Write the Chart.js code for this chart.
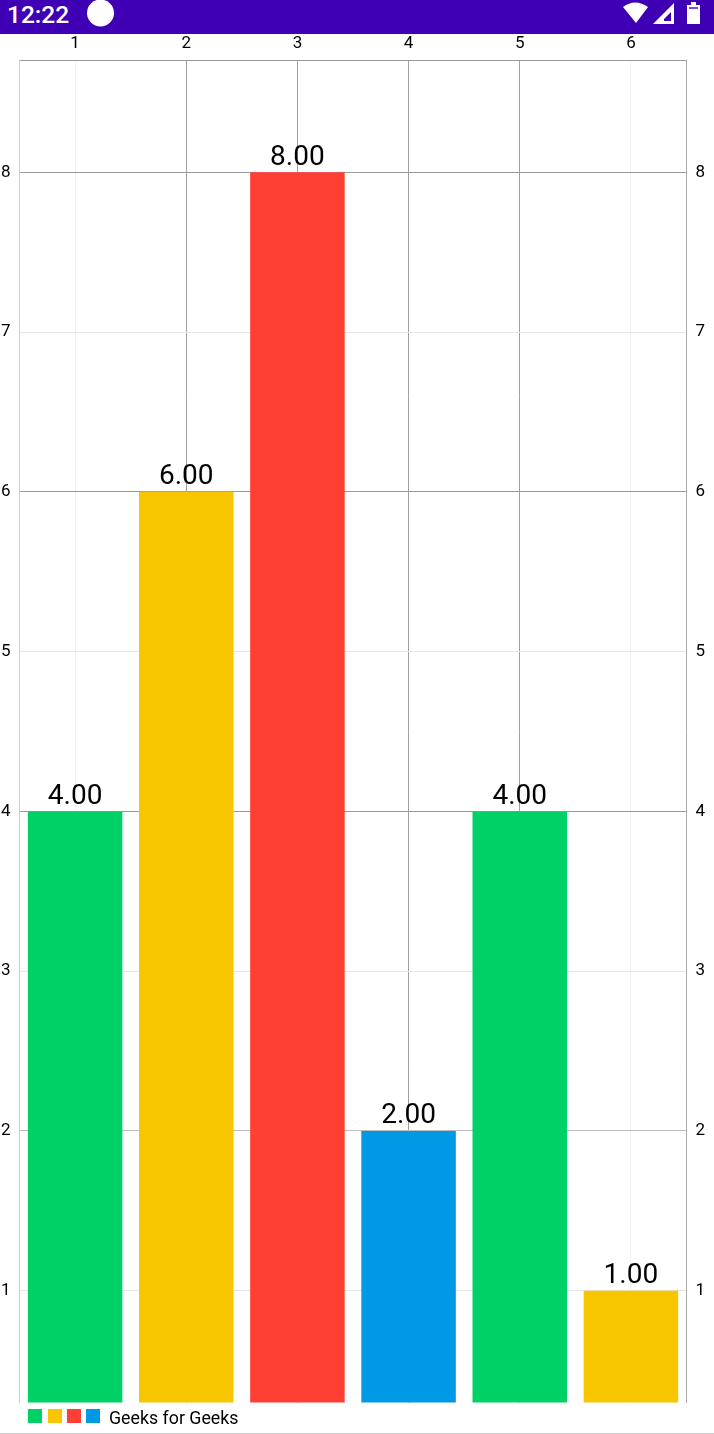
<!DOCTYPE html>
<html>
<head>
<meta charset="utf-8">
<title>Geeks for Geeks</title>
<script src="https://cdn.jsdelivr.net/npm/chart.js@4"></script>
<style>
  html, body { margin: 0; padding: 0; background: #fff; font-family: Roboto, sans-serif; }
  #page { position: relative; width: 714px; height: 1434px; overflow: hidden; }
  #statusBar { position: absolute; left: 0; top: 0; width: 714px; height: 34px; background: #3f00b5; color: #fff; }
  #clock { position: absolute; left: 7px; top: 0; font-size: 24.5px; line-height: 30px; font-weight: 500; }
  #statusBar svg { position: absolute; left: 0; top: 0; }
  #chartBox { position: absolute; left: 0; top: 34px; }
  #legend { position: absolute; left: 0; top: 1402px; width: 714px; height: 31px; }
  .swatch { position: absolute; top: 7px; width: 14px; height: 14px; }
  #legendText { position: absolute; left: 109px; top: 5px; font-size: 17.8px; line-height: 21px; color: #000; }
  #bottomLine { position: absolute; left: 0; top: 1433px; width: 714px; height: 1px; background: #ccc; }
</style>
</head>
<body>
<div id="page">
  <div id="statusBar">
    <div id="clock">12:22</div>
    <svg width="714" height="34">
      <ellipse cx="100.5" cy="13" rx="13.5" ry="13.5" fill="#fff"/>
      <path d="M623 7 Q635 -2 648 7 L636 23 Z" fill="#fff"/>
      <path d="M653 24 L674 3 L674 24 Z M664 21 L671 21 L671 12 L664 19 Z" fill="#fff" fill-rule="evenodd"/>
      <path d="M691 2 H696 V5 H700 V24 H687 V5 H691 Z" fill="#fff"/>
      <rect x="689" y="7" width="9" height="2" fill="#7a4fd0"/>
    </svg>
  </div>
  <div id="chartBox"><canvas id="barChart" width="714" height="1400"></canvas></div>
  <div id="legend"><span id="legendText"></span></div>
  <div id="bottomLine"></div>
</div>
<script>
  var categories = ['1', '2', '3', '4', '5', '6'];
  var seriesValues = [4, 6, 8, 2, 4, 1];
  var barColors = ['#00d166', '#f7c600', '#ff3f33', '#0099e5', '#00d166', '#f7c600'];
  var legendColors = ['#00d166', '#f7c600', '#ff3f33', '#0099e5'];
  var legendLabel = 'Geeks for Geeks';
  var legendLeft = [28, 48, 67, 86];
  var yTicks = [1, 2, 3, 4, 5, 6, 7, 8];
  var yMin = 0.3;
  var yMax = 8.7;

  // legend sits under the chart, same as the android one
  var legendBox = document.getElementById('legend');
  legendColors.forEach(function (c, i) {
    var s = document.createElement('div');
    s.className = 'swatch';
    s.style.left = legendLeft[i] + 'px';
    s.style.background = c;
    legendBox.appendChild(s);
  });
  document.getElementById('legendText').textContent = legendLabel;

  function fixSize(prop, size) {
    return function (scale) { scale[prop] = size; };
  }

  function hLineColor(ctx) {
    var v = ctx.tick ? ctx.tick.value : 0;
    if (v === 2) return '#bdbdbd';
    return v % 2 === 0 ? '#9a9a9a' : '#e6e6e6';
  }

  function vLineColor(ctx) {
    return (ctx.index === 0 || ctx.index === categories.length - 1) ? '#f2f2f2' : '#a0a0a0';
  }

  // value captions above each bar
  var valueLabels = {
    id: 'valueLabels',
    afterDatasetsDraw: function (chart) {
      var c = chart.ctx;
      c.save();
      c.font = '28px Roboto';
      c.fillStyle = '#000';
      c.textAlign = 'center';
      c.textBaseline = 'alphabetic';
      chart.getDatasetMeta(0).data.forEach(function (bar, i) {
        c.fillText(seriesValues[i].toFixed(2), bar.x, bar.y - 7.5);
      });
      c.restore();
    }
  };

  var tickFont = { family: 'Roboto', size: 17 };

  new Chart(document.getElementById('barChart'), {
    type: 'bar',
    data: {
      labels: categories,
      datasets: [{
        label: legendLabel,
        data: seriesValues,
        backgroundColor: barColors,
        barPercentage: 0.85,
        categoryPercentage: 1,
        yAxisID: 'y'
      }]
    },
    plugins: [valueLabels],
    options: {
      responsive: false,
      animation: false,
      layout: { padding: { left: 0, right: 0, top: 0, bottom: 31.5 } },
      plugins: { legend: { display: false }, tooltip: { enabled: false } },
      scales: {
        x: {
          position: 'top',
          afterFit: fixSize('height', 26.5),
          grid: { offset: false, drawTicks: false, color: vLineColor },
          border: { color: '#9a9a9a' },
          ticks: { color: '#000', font: tickFont, padding: 7, maxRotation: 0 }
        },
        y: {
          position: 'left',
          min: yMin,
          max: yMax,
          afterFit: fixSize('width', 19.5),
          afterBuildTicks: function (scale) {
            scale.ticks = yTicks.map(function (v) { return { value: v }; });
          },
          grid: { drawTicks: false, color: hLineColor },
          border: { color: '#cfcfcf' },
          ticks: { color: '#000', font: tickFont, padding: 9 }
        },
        y2: {
          position: 'right',
          min: yMin,
          max: yMax,
          afterFit: fixSize('width', 27.5),
          afterBuildTicks: function (scale) {
            scale.ticks = yTicks.map(function (v) { return { value: v }; });
          },
          grid: { drawTicks: false, drawOnChartArea: false },
          border: { color: '#aaaaaa' },
          ticks: { color: '#000', font: tickFont, padding: 9 }
        }
      }
    }
  });
</script>
</body>
</html>
